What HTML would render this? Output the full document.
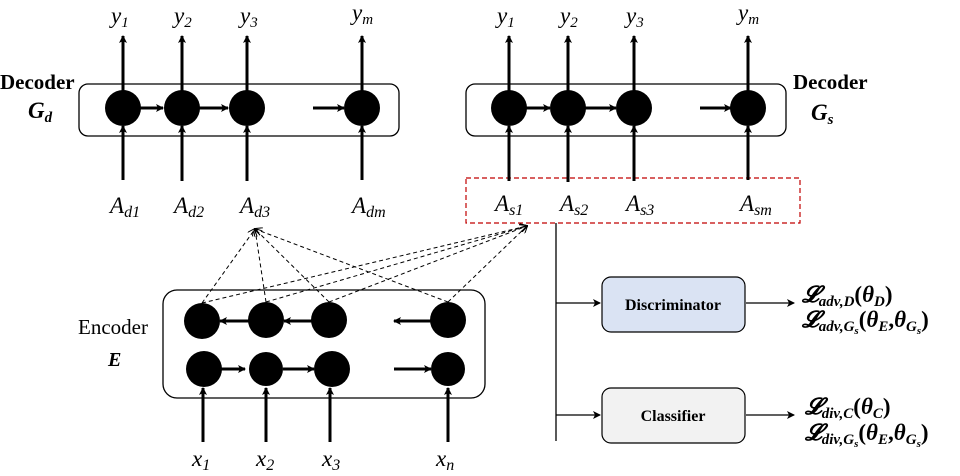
<!DOCTYPE html>
<html><head><meta charset="utf-8"><style>
html,body{margin:0;padding:0;background:#fff}
svg{display:block}
</style></head><body>
<svg width="960" height="476" viewBox="0 0 960 476" xmlns="http://www.w3.org/2000/svg">
<defs>
<marker id="a" markerWidth="8" markerHeight="8" refX="7" refY="4" orient="auto" markerUnits="userSpaceOnUse">
<path d="M0,0 L8,4 L0,8 L2,4 z" fill="#000"/></marker>
<marker id="t" markerWidth="8" markerHeight="8" refX="7" refY="4" orient="auto" markerUnits="userSpaceOnUse">
<path d="M0,0 L8,4 L0,8" fill="none" stroke="#000" stroke-width="1"/></marker>
</defs>
<g stroke="#000" stroke-width="1.3" fill="none">
<rect x="79" y="84" width="320" height="52" rx="9"/>
<rect x="466" y="84" width="320" height="52" rx="9"/>
<rect x="163" y="290" width="322" height="108" rx="14"/>
</g>
<rect x="466" y="178" width="334" height="45" fill="none" stroke="#c00000" stroke-width="1.2" stroke-dasharray="5,3"/>
<g stroke="#000" stroke-width="3" marker-end="url(#a)">
<line x1="123" y1="108" x2="123" y2="36"/><line x1="182" y1="108" x2="182" y2="36"/><line x1="247" y1="108" x2="247" y2="36"/><line x1="362" y1="108" x2="362" y2="36"/>
<line x1="123" y1="180" x2="123" y2="126"/><line x1="182" y1="181" x2="182" y2="126"/><line x1="247" y1="181" x2="247" y2="126"/><line x1="362" y1="180" x2="362" y2="126"/>
<line x1="140" y1="108" x2="163" y2="108"/><line x1="199" y1="108" x2="228" y2="108"/><line x1="313" y1="108" x2="344" y2="108"/>
<line x1="509" y1="108" x2="509" y2="36"/><line x1="568" y1="108" x2="568" y2="36"/><line x1="634" y1="108" x2="634" y2="36"/><line x1="748" y1="108" x2="748" y2="36"/>
<line x1="509" y1="181" x2="509" y2="126"/><line x1="568" y1="182" x2="568" y2="126"/><line x1="634" y1="181" x2="634" y2="126"/><line x1="748" y1="180" x2="748" y2="126"/>
<line x1="526" y1="108" x2="550" y2="108"/><line x1="585" y1="108" x2="616" y2="108"/><line x1="700" y1="108" x2="731" y2="108"/>
<line x1="252" y1="321" x2="220" y2="321"/><line x1="313" y1="321" x2="284" y2="321"/><line x1="432" y1="321" x2="394" y2="321"/>
<line x1="220" y1="369" x2="245" y2="369"/><line x1="283" y1="369" x2="314" y2="369"/><line x1="394" y1="369" x2="431" y2="369"/>
<line x1="203" y1="442" x2="203" y2="388"/><line x1="266" y1="442" x2="266" y2="388"/><line x1="330" y1="442" x2="330" y2="388"/><line x1="448" y1="442" x2="448" y2="388"/>
</g>
<g fill="#000">
<circle cx="123" cy="108" r="18"/><circle cx="182" cy="108" r="18"/><circle cx="247" cy="108" r="18"/><circle cx="362" cy="108" r="18"/>
<circle cx="509" cy="108" r="18"/><circle cx="568" cy="108" r="18"/><circle cx="634" cy="108" r="18"/><circle cx="748" cy="108" r="18"/>
<circle cx="202" cy="321" r="18"/><circle cx="266" cy="320" r="18"/><circle cx="329" cy="320" r="18"/><circle cx="448" cy="320" r="18"/>
<circle cx="204" cy="369" r="18"/><circle cx="266" cy="369" r="17"/><circle cx="332" cy="369" r="18"/><circle cx="448" cy="369" r="17"/>
</g>
<g stroke="#000" stroke-width="1" stroke-dasharray="4,3" fill="none" marker-end="url(#t)">
<line x1="202" y1="303" x2="255" y2="229"/><line x1="266" y1="302" x2="255" y2="229"/><line x1="329" y1="302" x2="255" y2="229"/><line x1="448" y1="302" x2="255" y2="229"/>
<line x1="202" y1="303" x2="527" y2="226"/><line x1="266" y1="302" x2="527" y2="226"/><line x1="329" y1="302" x2="527" y2="226"/><line x1="448" y1="302" x2="527" y2="226"/>
</g>
<g stroke="#000" stroke-width="1.3" marker-end="url(#a)">
<line x1="556" y1="303" x2="600" y2="303"/><line x1="556" y1="415" x2="600" y2="415"/>
<line x1="746" y1="303" x2="794" y2="303"/><line x1="746" y1="415" x2="794" y2="415"/>
</g>
<line x1="556" y1="223" x2="556" y2="441" stroke="#000" stroke-width="1.3"/>
<rect x="602" y="277" width="143" height="55" rx="9" fill="#dae3f3" stroke="#000" stroke-width="1.2"/>
<rect x="602" y="388" width="143" height="55" rx="9" fill="#f2f2f2" stroke="#000" stroke-width="1.2"/>
<g style="font-family:'Liberation Serif',serif;font-weight:bold">
<text x="673" y="310" text-anchor="middle" font-size="16">Discriminator</text>
<text x="673" y="421" text-anchor="middle" font-size="16">Classifier</text>
<text x="0" y="89" font-size="21">Decoder</text>
<text x="793" y="89" font-size="21">Decoder</text>
</g>
<g style="font-family:'Liberation Serif',serif;font-style:italic;font-size:23px">
<text x="111" y="23">y<tspan font-size="15" dy="4">1</tspan></text>
<text x="174" y="23">y<tspan font-size="15" dy="4">2</tspan></text>
<text x="240" y="23">y<tspan font-size="15" dy="4">3</tspan></text>
<text x="352" y="20">y<tspan font-size="15" dy="4">m</tspan></text>
<text x="497" y="23">y<tspan font-size="15" dy="4">1</tspan></text>
<text x="560" y="23">y<tspan font-size="15" dy="4">2</tspan></text>
<text x="626" y="23">y<tspan font-size="15" dy="4">3</tspan></text>
<text x="738" y="20">y<tspan font-size="15" dy="4">m</tspan></text>
<text x="110" y="213">A<tspan font-size="16" dy="4">d1</tspan></text>
<text x="174" y="213">A<tspan font-size="16" dy="4">d2</tspan></text>
<text x="240" y="213">A<tspan font-size="16" dy="4">d3</tspan></text>
<text x="352" y="213">A<tspan font-size="16" dy="4">dm</tspan></text>
<text x="495" y="211">A<tspan font-size="16" dy="4">s1</tspan></text>
<text x="560" y="211">A<tspan font-size="16" dy="4">s2</tspan></text>
<text x="626" y="211">A<tspan font-size="16" dy="4">s3</tspan></text>
<text x="740" y="211">A<tspan font-size="16" dy="4">sm</tspan></text>
<text x="192" y="466">x<tspan font-size="16" dy="4">1</tspan></text>
<text x="256" y="466">x<tspan font-size="16" dy="4">2</tspan></text>
<text x="322" y="466">x<tspan font-size="16" dy="4">3</tspan></text>
<text x="436" y="466">x<tspan font-size="16" dy="4">n</tspan></text>
<text x="28" y="118" font-weight="bold">G<tspan font-size="15" dy="4">d</tspan></text>
<text x="811" y="120" font-weight="bold">G<tspan font-size="15" dy="4">s</tspan></text>
<text x="108" y="366" font-weight="bold" font-size="20">E</text>
</g>
<text x="78" y="334" style="font-family:'Liberation Serif',serif" font-size="21">Encoder</text>
<g style="font-family:'Liberation Serif',serif;font-style:italic;font-weight:bold;font-size:23px">
<text x="802" y="302">𝓛<tspan font-size="15" dy="4">adv,D</tspan><tspan font-style="normal" dy="-4">(</tspan>θ<tspan font-size="15" dy="4">D</tspan><tspan font-style="normal" dy="-4">)</tspan></text>
<text x="802" y="327">𝓛<tspan font-size="15" dy="4">adv,G</tspan><tspan font-size="11" dy="3">s</tspan><tspan font-style="normal" dy="-7">(</tspan>θ<tspan font-size="15" dy="4">E</tspan><tspan font-style="normal" dy="-4">,</tspan>θ<tspan font-size="15" dy="4">G</tspan><tspan font-size="11" dy="3">s</tspan><tspan font-style="normal" dy="-7">)</tspan></text>
<text x="805" y="414">𝓛<tspan font-size="15" dy="4">div,C</tspan><tspan font-style="normal" dy="-4">(</tspan>θ<tspan font-size="15" dy="4">C</tspan><tspan font-style="normal" dy="-4">)</tspan></text>
<text x="805" y="440">𝓛<tspan font-size="15" dy="4">div,G</tspan><tspan font-size="11" dy="3">s</tspan><tspan font-style="normal" dy="-7">(</tspan>θ<tspan font-size="15" dy="4">E</tspan><tspan font-style="normal" dy="-4">,</tspan>θ<tspan font-size="15" dy="4">G</tspan><tspan font-size="11" dy="3">s</tspan><tspan font-style="normal" dy="-7">)</tspan></text>
</g>
</svg>
</body></html>
